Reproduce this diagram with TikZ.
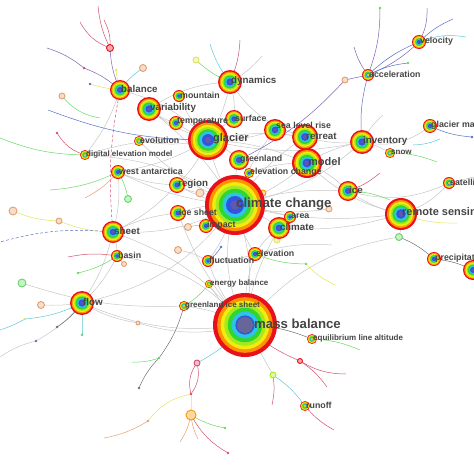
\documentclass[tikz,border=0pt]{standalone}
\usepackage{fontspec}
\setmainfont{Liberation Sans}

\definecolor{kred}{HTML}{E8101A}
\definecolor{korange}{HTML}{FF9400}
\definecolor{kyellow}{HTML}{F0EC12}
\definecolor{kygreen}{HTML}{A8E81E}
\definecolor{kgreen}{HTML}{2ED62E}
\definecolor{kcyan}{HTML}{2EC4E4}
\definecolor{kblue}{HTML}{3454E0}
\definecolor{kcore}{HTML}{5E58B0}
\definecolor{kwtext}{HTML}{454545}
\definecolor{lg}{HTML}{C6C6C6}
\definecolor{dg}{HTML}{707070}
\definecolor{lpur}{HTML}{7E62B4}
\definecolor{lred}{HTML}{D2506E}
\definecolor{lblu}{HTML}{5470C8}
\definecolor{lcya}{HTML}{5CC8DC}
\definecolor{lgre}{HTML}{66D866}
\definecolor{lyel}{HTML}{E4E45A}
\definecolor{lora}{HTML}{E4A070}

\tikzset{
  link/.style={line width=0.5pt},
  kw/.style={anchor=west, inner sep=0pt, text=kwtext, xshift=1pt, yshift=1pt},
  kwA/.style={kw, font=\bfseries\fontsize{13.2}{13.2}\selectfont},
  kwB/.style={kw, font=\bfseries\fontsize{11}{11}\selectfont},
  kwC/.style={kw, font=\bfseries\fontsize{9.8}{9.8}\selectfont},
  kwD/.style={kw, font=\bfseries\fontsize{8.8}{8.8}\selectfont},
  kwE/.style={kw, font=\bfseries\fontsize{8}{8}\selectfont},
  leafring/.style={line width=0.9pt}
}

\begin{document}
\begin{tikzpicture}[x=1pt, y=-1pt]

\useasboundingbox (0,0) rectangle (474,474);
\clip (0,0) rectangle (474,474);

% keyword nodes
\foreach \n/\x/\y in {mb/245/325, cc/235/205, gl/208/140, rs/401/214, mo/307/163,
  re/305/137, sl/275/130, in/362/142, ic/348/191, cl/279/228, dy/230/82,
  ba/120/90, va/149/109, mt/179/96, te/176/123, su/234/119, ev/139/141,
  de/85/155, wa/118/172, rg/177/185, is/178/213, im/206/226, sh/113/232,
  gr/239/160, ec/249/173, ar/290/217, bs/117/256, fl/82/303, fu/208/261,
  eb/209/284, gis/184/306, el/255/254, ela/312/339, ro/305/406, pr/434/259,
  xr/473/270, ve/419/42, ac/368/75, gm/430/126, sn/390/153, sa/449/183}
  \coordinate (\n) at (\x,\y);

% small nodes and loose ends
\foreach \n/\x/\y in {pa/110/48, ta1/80/22, ta2/104/20, ta3/98/6, pb/84/68, tb/47/48,
  pc/143/68, pd/116/70, pe/90/84, pf/62/96, tf1/100/118, tf/48/110, pg/57/133,
  th/0/138, td1/210/44, td2/240/40, td3/262/56, pdy/196/60, tv1/427/8, tv2/453/19,
  tv3/466/37, ta/380/8, tb2/354/47, tc/408/63, pp1/345/80, tg1/472/137, tg2/440/139,
  tg3/413/145, tg4/437/162, te1/474/177, te2/457/223, pp/399/237, ti1/380/173,
  ti2/390/200, ti3/383/115, tl1/360/350, pr1/300/361, tl2/346/374, tl3/327/387,
  pq/273/375, tl4/272/405, tl5/334/430, ps/197/363, pt/191/394, pu/191/415,
  pv/148/421, tl6/104/438, tl7/225/428, tl8/228/453, tl9/180/442, tl10/198/439,
  pw/159/358, tl11/139/388, tl12/132/362, pl1/41/305, pl2/22/283, tl13/0/330,
  pl3/25/319, tl14/0/357, pl4/36/341, pl5/82/335, pl6/57/327, tl15/68/257,
  pl7/78/273, pl8/124/264, pl9/13/211, pl10/59/221, tl16/0/242, tl17/50/190,
  pl11/128/199, tl18/85/198, pl12/200/193, pl13/188/227, pl14/263/193,
  pl15/178/250, pl16/221/247, pl17/329/209, pl18/277/240, tl19/306/264,
  tl20/335/285, tl21/332/245, pl19/138/323}
  \coordinate (\n) at (\x,\y);

% co-occurrence links
\foreach \a/\b/\c/\k in {cc/gl/lg/10, cc/mo/lg/-10, cc/re/lg/10, cc/mb/lg/15,
  cc/mb/lg/-20, cc/rs/lg/-10, cc/ic/lg/10, cc/cl/lg/10, cc/rg/lg/10, cc/is/lg/-10,
  cc/sh/lg/15, cc/wa/lg/10, cc/de/lg/-15, cc/ev/lg/10, cc/fu/lg/10, cc/el/lg/-10,
  cc/ar/lg/5, cc/gr/lg/10, cc/in/lg/-15, cc/sl/lg/10, cc/va/lg/-10, cc/fl/lg/20,
  gl/va/lg/10, gl/dy/lg/-10, gl/te/lg/5, gl/ba/lg/-15, gl/re/lg/10, gl/sl/lg/-10,
  gl/su/lg/10, gl/mt/lg/10, gl/gr/lg/10, gl/in/lg/-12, gl/mo/lg/10, gl/ev/lg/10,
  gl/de/lg/-10, gl/wa/lg/10, gl/rg/lg/10, dy/va/lg/-15, dy/su/lg/10, dy/re/lg/-20,
  mo/in/lg/10, mo/rs/lg/-15, mo/ic/lg/10, mo/re/lg/10, re/in/lg/-10, re/sl/lg/10,
  rs/ic/lg/10, rs/sa/lg/-15, rs/pp/lg/10, rs/cl/lg/10, in/gm/lg/-25, in/sn/lg/10,
  ic/sa/lg/-20, mb/fl/lg/15, mb/fu/lg/10, mb/gis/lg/-10, mb/eb/lg/10, mb/bs/lg/-20,
  mb/sh/lg/-15, mb/el/lg/10, mb/ela/dg/10, mb/cl/lg/10, mb/is/lg/10, sh/fl/lg/10,
  sh/bs/lg/10, fl/bs/lg/-10, is/sh/lg/-10, wa/sh/lg/10, de/ba/lg/-10, rg/sh/lg/10,
  rg/wa/lg/10, el/cl/lg/10, el/fu/lg/10, gr/ec/lg/10, ec/mo/lg/10, te/va/lg/10,
  ar/cl/lg/10, im/cc/lg/10, pl12/rg/lg/10, pl12/cc/lg/10, pl13/im/lora/10,
  pl14/cc/lora/0, pl15/fu/lg/10, pl16/fu/lblu/10, pl17/cc/lg/10, pl18/cl/lyel/10,
  el/tl19/lgre/-10, tl19/tl20/lyel/-10, el/tl21/lg/10, pl19/fl/lg/10, pl19/mb/lg/-15}
  \draw[link,\c] (\a) to[bend left=\k] (\b);

\foreach \a/\b/\c/\k in {ba/pa/lpur/10, pa/ta1/lred/20, pa/ta2/lred/-15, pa/ta3/lred/10,
  ba/pb/lpur/-10, pb/tb/lpur/-10, ba/pc/lcya/10, ba/pd/lyel/5, ba/pe/lyel/5,
  pf/tf1/lgre/-20, tf/gl/lblu/-10, pg/de/lred/-20, th/de/lgre/-10, dy/td1/lcya/10,
  dy/td2/lred/-10, dy/td3/lg/-10, dy/pdy/lgre/10, ve/tv1/lpur/-15, ve/tv2/lblu/10,
  ve/tv3/lcya/15, ac/ve/lpur/-10, ac/ve/lblu/10, ac/ta/lpur/-10, ac/tb2/lpur/10,
  ac/tc/lblu/10, ac/pp1/lpur/0, pp1/gr/lpur/10, ac/in/lblu/-10, gm/tg1/lblu/-10,
  tg2/tg3/lcya/10, sn/tg4/lgre/10, sa/te1/lg/0, rs/te2/lyel/-10, pp/pr/dg/10,
  pr/xr/dg/10, pp/mb/lg/-20, ic/ti1/lred/-10, ic/ti2/lgre/10, in/ti3/lg/10,
  ela/tl1/lgre/10, mb/pr1/lred/-10, pr1/tl2/lred/-15, pr1/tl3/lred/10, mb/pq/lg/0,
  pq/ro/lcya/10, pq/tl4/lred/10, ro/tl5/lred/-10, mb/ps/lcya/10, ps/pt/lred/25,
  ps/pt/lred/-25, pt/pu/lyel/0, pt/pv/lyel/-20, pv/tl6/lora/10, pu/tl7/lgre/-10,
  pu/tl8/lred/-15, pu/tl9/lora/10, pu/tl10/lora/-10, gis/pw/dg/10, pw/tl11/dg/-10,
  pw/tl12/lgre/10, gis/eb/lgre/-10, fl/pl1/lg/5, pl2/gis/lg/-10, tl13/pl3/lcya/-5,
  pl3/fl/lcya/-10, tl14/pl4/lg/10, pl4/fl/lg/-10, fl/pl5/lcya/0, fl/pl6/dg/10,
  tl15/bs/lred/10, pl7/bs/lgre/-10, bs/pl8/lora/0, pl9/pl10/lyel/-10,
  pl10/sh/lyel/-10, tl17/wa/lgre/-10, wa/pl11/lgre/10, tl18/wa/lora/-10}
  \draw[link,\c] (\a) to[bend left=\k] (\b);

\draw[link, lred, densely dashed] (ba) to[bend left=-8] (sh);
\draw[link, lblu, densely dashed] (sh) to[bend left=-10] (tl16);

% small rings and dots
\foreach \n/\r/\c in {pa/3.5/kred, pc/3.5/lora, pf/3/lora, pdy/3/lyel, pp1/3/lora,
  pp/3.5/lgre, pr1/2.5/kred, pq/3/kygreen, ps/3/lred, pu/5/korange, pl1/3.5/lora,
  pl2/4/lgre, pl9/4/lora, pl10/3/lora, pl11/3.5/lgre, pl12/4/lora, pl13/3.5/lora,
  pl14/3/korange, pl15/3.5/lora, pl17/3/lora, pl18/3/lyel, pl8/2.5/lora, pl19/2/lora}
  \filldraw[leafring, draw=\c, fill=\c!35] (\n) circle ({\r*1pt});

\foreach \n/\c in {ta/lgre, tc/lgre, pb/lred, pd/lyel, pe/lpur, pg/lred, pv/lora,
  pw/lgre, pl3/lyel, pl4/lpur, pl5/lgre, pl6/dg, pl7/lgre, pl16/lblu, tl19/lgre,
  pt/lred, tg1/lblu, tl11/dg, tl8/lred, tl7/lgre}
  \fill[\c] (\n) circle (1.4pt);

% rainbow rings of the keywords
\foreach \n/\r in {mb/32, cc/30, gl/20, rs/16, mo/15, re/13, sl/11, in/12, ic/10,
  cl/11, dy/12, ba/10, va/12, mt/6, te/7, su/9, ev/5, de/5, wa/7, rg/8, is/8,
  im/7, sh/11, gr/10, ec/5, ar/6, bs/6, fl/12, fu/6, eb/4, gis/5, el/7, ela/5,
  ro/5, pr/7, xr/10, ve/7, ac/6, gm/7, sn/5, sa/6}
  \foreach \col/\f in {kred/1, korange/0.87, kyellow/0.76, kygreen/0.65, kgreen/0.54,
    kcyan/0.42, kblue/0.3, kcore/0.16}
    \fill[\col] (\n) circle ({\r*\f*1pt});
\fill[gray!80!blue] (mb) circle (8pt);
\foreach \n in {ev, de, gis, ela, ro, sn, eb, ac, sa}
  \fill[kyellow!60!korange] (\n) circle (1.5pt);

% labels
\foreach \n/\t/\s in {cc/climate change/kwA, rs/remote sensing/kwB,
  mo/model/kwB, re/retreat/kwC, in/inventory/kwC,
  ic/ice/kwC, cl/climate/kwC, dy/dynamics/kwC, ba/balance/kwC, va/variability/kwC,
  mt/mountain/kwD, te/temperature/kwD, su/surface/kwD, ev/evolution/kwD,
  de/digital elevation model/kwE, wa/west antarctica/kwD, rg/region/kwC,
  is/ice sheet/kwD, im/impact/kwD, sh/sheet/kwC, gr/greenland/kwD,
  ec/elevation change/kwD, ar/area/kwD, bs/basin/kwD, fl/flow/kwC,
  fu/fluctuation/kwD, eb/energy balance/kwE, gis/greenland ice sheet/kwE,
  el/elevation/kwD, ela/equilibrium line altitude/kwE, ro/runoff/kwD,
  pr/precipitation/kwD, ve/velocity/kwD, ac/acceleration/kwD,
  gm/glacier mass balance/kwD, sn/snow/kwE, sa/satellite/kwD}
  \node[\s] (l-\n) at (\n) {\t};
\node[kwD, yshift=4pt] (l-sl) at (sl) {sea level rise};
\node[kwA, xshift=8pt] (l-mb) at (mb) {mass balance};
\node[kwB, xshift=4pt] (l-gl) at (gl) {glacier};

\end{tikzpicture}
\end{document}
